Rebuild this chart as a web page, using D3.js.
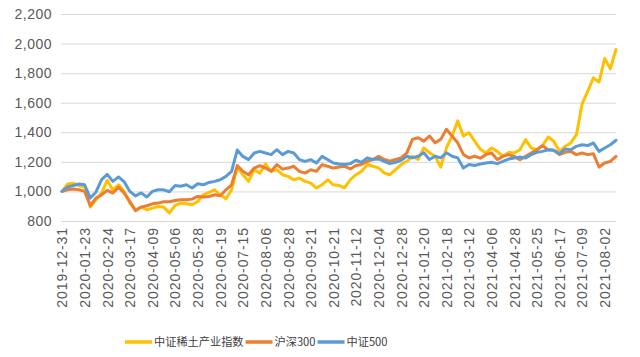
<!DOCTYPE html>
<html><head><meta charset="utf-8">
<script src="https://cdn.jsdelivr.net/npm/d3@7"></script>
<style>
html,body{margin:0;padding:0;background:#fff;}
svg{display:block;}
</style></head>
<body>
<svg id="chart" width="640" height="357"></svg>
<script>
// tick labels along the category axis (every 16 trading days)
const xLabels = ["2019-12-31","2020-01-23","2020-02-24","2020-03-17","2020-04-09","2020-05-06","2020-05-28","2020-06-19","2020-07-15","2020-08-06","2020-08-28","2020-09-21","2020-10-21","2020-11-12","2020-12-04","2020-12-28","2021-01-20","2021-02-18","2021-03-12","2021-04-06","2021-04-28","2021-05-25","2021-06-17","2021-07-09","2021-08-02"];
const labelStep = 16;   // trading days between labels
const sampleStep = 4;   // trading days between stored values
const yTicks = [800,1000,1200,1400,1600,1800,2000,2200];
const seriesNames = ["中证稀土产业指数","沪深300","中证500"];

const rareEarth = [1000,1050,1056,1040,1030,895,943,989,1075,1010,1045,1000,921,876,894,876,887,898,894,855,905,921,916,910,932,977,993,1011,977,950,1011,1165,1113,1068,1147,1124,1185,1136,1147,1113,1102,1079,1090,1068,1056,1023,1045,1079,1045,1040,1025,1079,1113,1136,1182,1170,1159,1125,1113,1147,1182,1204,1238,1216,1295,1261,1238,1165,1295,1375,1477,1375,1397,1340,1285,1260,1294,1271,1237,1264,1260,1282,1350,1294,1282,1310,1368,1339,1271,1305,1328,1384,1590,1678,1768,1740,1900,1830,1960];
const hs300 = [1000,1011,1016,1011,1000,905,955,977,1007,989,1027,989,932,870,894,903,916,921,930,930,939,943,943,948,966,962,966,977,971,1011,1045,1175,1136,1113,1158,1174,1158,1136,1181,1151,1158,1170,1136,1124,1147,1136,1181,1170,1158,1165,1170,1152,1175,1182,1204,1216,1238,1216,1204,1216,1227,1261,1352,1363,1340,1375,1329,1352,1420,1375,1329,1250,1227,1238,1225,1249,1260,1215,1237,1249,1237,1215,1237,1260,1282,1310,1282,1278,1249,1264,1271,1249,1260,1249,1255,1165,1192,1203,1237];
const csi500 = [1000,1030,1040,1050,1045,955,995,1080,1115,1068,1098,1065,1000,970,990,962,1000,1011,1011,998,1040,1035,1045,1023,1052,1045,1061,1068,1079,1102,1136,1280,1237,1215,1260,1271,1260,1249,1282,1249,1271,1260,1215,1203,1215,1192,1237,1215,1192,1185,1182,1188,1211,1197,1227,1216,1220,1204,1188,1197,1211,1238,1227,1238,1261,1216,1238,1227,1261,1238,1227,1159,1182,1175,1185,1192,1197,1188,1203,1219,1226,1233,1226,1249,1264,1271,1282,1278,1255,1287,1282,1305,1316,1310,1328,1271,1294,1316,1346];

const colors = ["#FFC000","#ED7D31","#5B9BD5"];
const allSeries = [rareEarth, hs300, csi500];

const svg = d3.select("#chart");
const plotLeft = 62, plotRight = 616, plotTop = 14, plotBottom = 221;
const lastIdx = (rareEarth.length - 1) * sampleStep;

const x = d3.scaleLinear().domain([0, lastIdx]).range([plotLeft, plotRight]);
const y = d3.scaleLinear().domain([800, 2200]).range([plotBottom, plotTop]);

// grid + y axis
const yAxis = d3.axisLeft(y).tickValues(yTicks).tickSize(-(plotRight - plotLeft + 1)).tickPadding(9)
  .tickFormat(d3.format(","));
const gy = svg.append("g").attr("transform", `translate(${plotLeft - 1},0)`).call(yAxis);
gy.select(".domain").remove();
gy.selectAll(".tick line").attr("stroke", "#d9d9d9").attr("stroke-width", 1);
gy.selectAll(".tick text").attr("fill", "#595959").style("font-family", "'Liberation Sans', Arial, sans-serif")
  .style("font-size", "14px").style("letter-spacing", "0.5px");

// x axis labels (rotated)
const tickIdx = xLabels.map((_, k) => k * labelStep);
const xAxis = d3.axisBottom(x).tickValues(tickIdx).tickSize(0).tickPadding(0)
  .tickFormat((d, k) => xLabels[k]);
const gx = svg.append("g").attr("transform", `translate(0,${plotBottom})`).call(xAxis);
gx.select(".domain").remove();
gx.selectAll(".tick text")
  .attr("fill", "#595959")
  .style("font-family", "'Liberation Sans', Arial, sans-serif")
  .style("font-size", "14px").style("letter-spacing", "0.9px")
  .attr("text-anchor", "end")
  .attr("dy", "0.35em")
  .attr("y", 0)
  .attr("x", -6)
  .attr("transform", "rotate(-90)");

// lines
const line = d3.line().x((d, i) => x(i * sampleStep)).y(d => y(d)).curve(d3.curveLinear);
allSeries.forEach((s, k) => {
  svg.append("path").datum(s).attr("d", line).attr("fill", "none")
    .attr("stroke", colors[k]).attr("stroke-width", 3).attr("stroke-linejoin", "round").attr("stroke-linecap", "round");
});

// legend
const lg = svg.append("g").attr("transform", "translate(125,342)");
let cx = 0;
seriesNames.forEach((name, k) => {
  lg.append("line").attr("x1", cx).attr("x2", cx + 27).attr("y1", 0).attr("y2", 0)
    .attr("stroke", colors[k]).attr("stroke-width", 3.5);
  const t = lg.append("text").attr("x", cx + 29).attr("y", 0).attr("dy", "0.36em")
    .attr("fill", "#404040").style("font-family", "'Noto Sans CJK SC', sans-serif").style("font-size", "11.2px")
    .text(name);
  cx += 29 + t.node().getComputedTextLength() + 2;
});
</script>
</body></html>
